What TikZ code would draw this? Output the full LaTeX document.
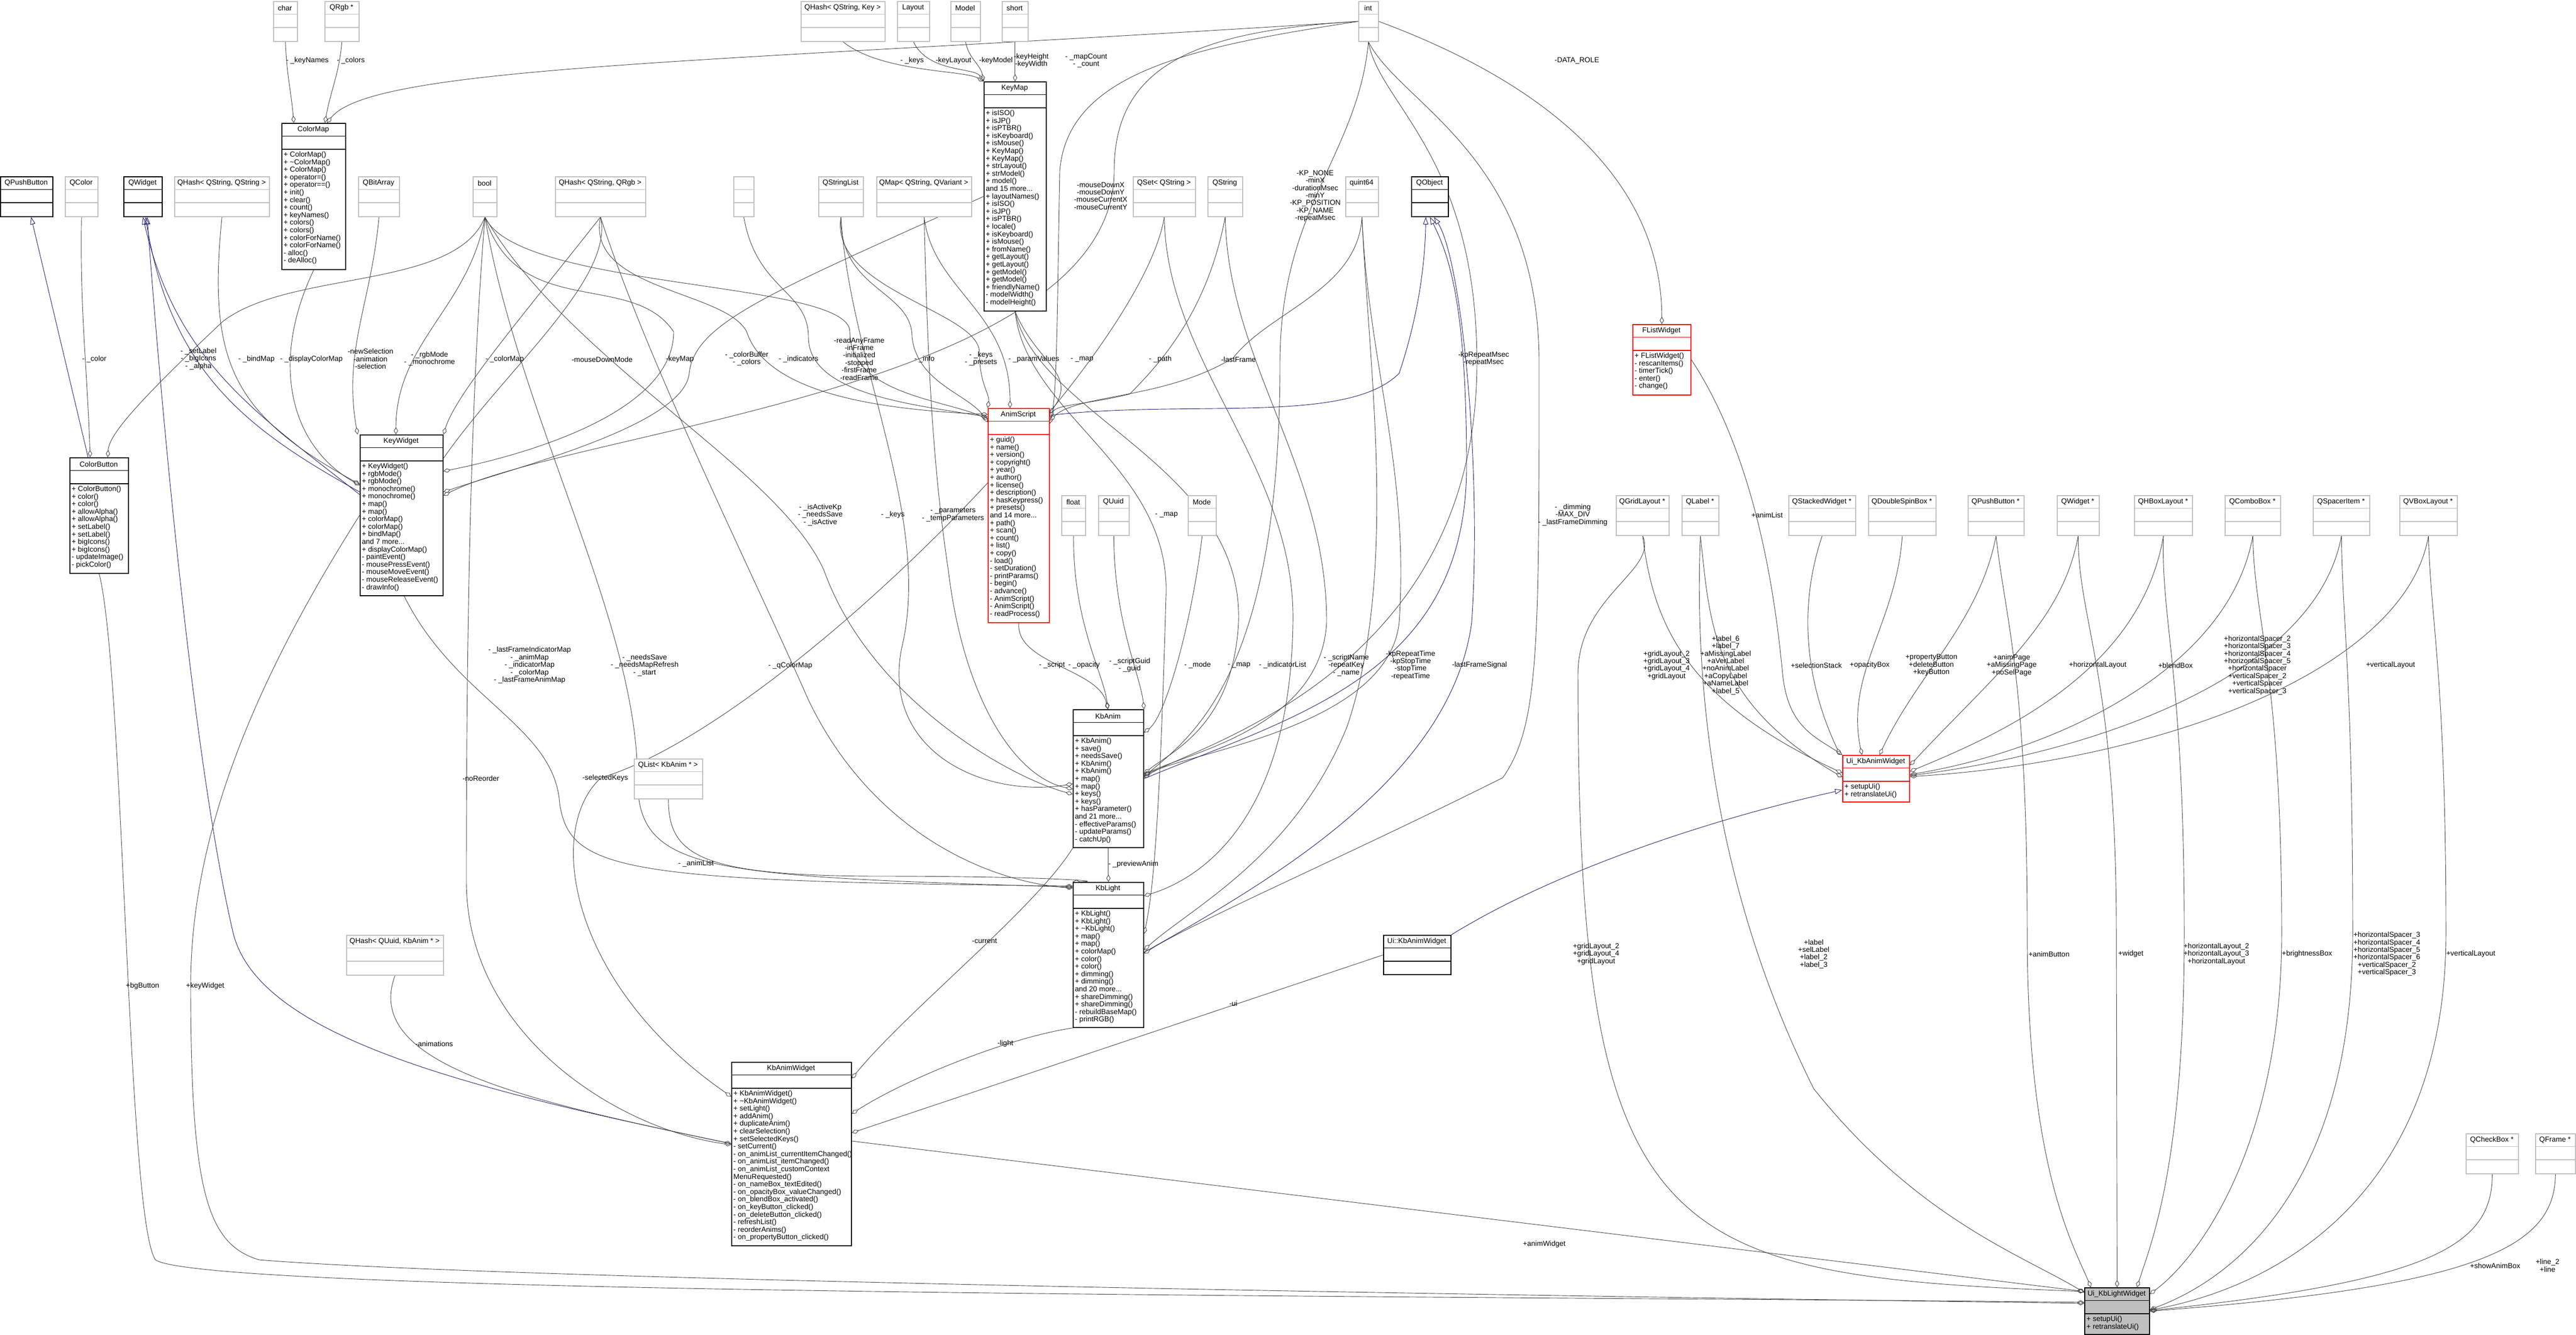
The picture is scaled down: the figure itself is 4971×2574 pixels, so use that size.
\documentclass[tikz,border=0pt]{standalone}
\usepackage{fontspec}
\setmainfont{Liberation Sans}
\usetikzlibrary{arrows.meta,calc,backgrounds}
\definecolor{navy}{HTML}{191970}
\definecolor{edgec}{HTML}{404040}
\definecolor{gborder}{HTML}{BFBFBF}
\tikzset{
  txt/.style={font=\fontsize{7}{7.3}\selectfont, inner sep=0pt},
  lbl/.style={font=\fontsize{7}{7.2}\selectfont, inner sep=0pt, align=center},
  blackbox/.style={draw=black, line width=0.9pt, fill=white},
  graybox/.style={draw=gborder, line width=0.8pt, fill=white},
  redbox/.style={draw=red, line width=0.9pt, fill=white},
  hibox/.style={draw=black, line width=0.9pt, fill=gborder},
  agg/.style={draw=edgec, line width=0.45pt, -{Diamond[open,length=7pt,width=4pt]}},
  inh/.style={draw=navy, line width=0.45pt, -{Triangle[open,length=7pt,width=5pt]}},
}
\newcommand\ubox[8]{%
  \pgfmathsetmacro\bw{(#4-#2)*0.5}\pgfmathsetmacro\bh{(#5-#3)*0.5}%
  \node[#8, inner sep=0pt, minimum width=\bw pt, minimum height=\bh pt, anchor=north west] (#1) at (#2,#3) {};
  \draw[#8] (#2,#3+25.5) -- (#4,#3+25.5) (#2,#3+51) -- (#4,#3+51);
  \node[txt] (#1t) at ({(#2+#4)/2},#3+13) {#6};
  \node[txt, anchor=north west, align=left] (#1m) at (#2+4,#3+55) {#7};
}
\newcommand\tbox[5]{\ubox{#1}{#2}{#3}{#4}{#3+77}{#5}{}{graybox}}
\begin{document}
\begin{tikzpicture}[x=0.5pt,y=-0.5pt]
\useasboundingbox (0,0) rectangle (4971,2574);
% ---------- type boxes ----------
\tbox{tchar}{527}{2}{573}{char}
\tbox{tqrgb}{626}{2}{692}{QRgb *}
\tbox{thkey}{1545}{2}{1707}{QHash< QString, Key >}
\tbox{tlayout}{1731}{2}{1793}{Layout}
\tbox{tmodel}{1834}{2}{1891}{Model}
\tbox{tshort}{1933}{2}{1983}{short}
\tbox{tint}{2621}{2}{2659}{int}
\ubox{tqpb}{0}{340}{101}{417}{QPushButton}{}{blackbox}
\tbox{tqcolor}{125}{340}{188}{QColor}
\ubox{tqwidget}{238}{340}{312}{417}{QWidget}{}{blackbox}
\tbox{thss}{336}{340}{519}{QHash< QString, QString >}
\tbox{tbits}{691}{340}{770}{QBitArray}
\tbox{tbool}{912}{340}{958}{bool}
\tbox{thrgb}{1071}{340}{1245}{QHash< QString, QRgb >}
\tbox{tempty}{1415}{340}{1454}{}
\tbox{tqsl}{1579}{340}{1665}{QStringList}
\tbox{tqmap}{1691}{340}{1874}{QMap< QString, QVariant >}
\tbox{tqset}{2186}{340}{2306}{QSet< QString >}
\tbox{tqstr}{2330}{340}{2397}{QString}
\tbox{tquint}{2596}{340}{2659}{quint64}
\ubox{tqobj}{2723}{340}{2794}{417}{QObject}{}{blackbox}
\tbox{tfloat}{2048}{955}{2094}{float}
\tbox{tquuid}{2119}{955}{2178}{QUuid}
\tbox{tmode}{2292}{955}{2346}{Mode}
\tbox{tqlist}{1223}{1463}{1355}{QList< KbAnim * >}
\tbox{thuuid}{668}{1803}{855}{QHash< QUuid, KbAnim * >}
\tbox{tgrid}{3118}{955}{3220}{QGridLayout *}
\tbox{tlabel}{3245}{955}{3316}{QLabel *}
\tbox{tstack}{3451}{955}{3580}{QStackedWidget *}
\tbox{tdspin}{3605}{955}{3735}{QDoubleSpinBox *}
\tbox{tqpbp}{3797}{955}{3905}{QPushButton *}
\tbox{tqwp}{3969}{955}{4050}{QWidget *}
\tbox{thbox}{4118}{955}{4230}{QHBoxLayout *}
\tbox{tcombo}{4293}{955}{4400}{QComboBox *}
\tbox{tspacer}{4463}{955}{4572}{QSpacerItem *}
\tbox{tvbox}{4630}{955}{4741}{QVBoxLayout *}
\tbox{tcheck}{4758}{2186}{4859}{QCheckBox *}
\tbox{tframe}{4892}{2186}{4969}{QFrame *}
% ---------- classes ----------
\ubox{ColorMap}{543}{237}{666}{519}{ColorMap}{+ ColorMap()\\+ \textasciitilde ColorMap()\\+ ColorMap()\\+ operator=()\\+ operator==()\\+ init()\\+ clear()\\+ count()\\+ keyNames()\\+ colors()\\+ colors()\\+ colorForName()\\+ colorForName()\\- alloc()\\- deAlloc()}{blackbox}
\ubox{KeyMap}{1898}{157}{2018}{599}{KeyMap}{+ isISO()\\+ isJP()\\+ isPTBR()\\+ isKeyboard()\\+ isMouse()\\+ KeyMap()\\+ KeyMap()\\+ strLayout()\\+ strModel()\\+ model()\\and 15 more...\\+ layoutNames()\\+ isISO()\\+ isJP()\\+ isPTBR()\\+ locale()\\+ isKeyboard()\\+ isMouse()\\+ fromName()\\+ getLayout()\\+ getLayout()\\+ getModel()\\+ getModel()\\+ friendlyName()\\- modelWidth()\\- modelHeight()}{blackbox}
\ubox{ColorButton}{134}{882}{247}{1105}{ColorButton}{+ ColorButton()\\+ color()\\+ color()\\+ allowAlpha()\\+ allowAlpha()\\+ setLabel()\\+ setLabel()\\+ bigIcons()\\+ bigIcons()\\- updateImage()\\- pickColor()}{blackbox}
\ubox{KeyWidget}{694}{838}{854}{1148}{KeyWidget}{+ KeyWidget()\\+ rgbMode()\\+ rgbMode()\\+ monochrome()\\+ monochrome()\\+ map()\\+ map()\\+ colorMap()\\+ colorMap()\\+ bindMap()\\and 7 more...\\+ displayColorMap()\\- paintEvent()\\- mousePressEvent()\\- mouseMoveEvent()\\- mouseReleaseEvent()\\- drawInfo()}{blackbox}
\ubox{AnimScript}{1906}{787}{2024}{1200}{AnimScript}{+ guid()\\+ name()\\+ version()\\+ copyright()\\+ year()\\+ author()\\+ license()\\+ description()\\+ hasKeypress()\\+ presets()\\and 14 more...\\+ path()\\+ scan()\\+ count()\\+ list()\\+ copy()\\- load()\\- setDuration()\\- printParams()\\- begin()\\- advance()\\- AnimScript()\\- AnimScript()\\- readProcess()}{redbox}
\ubox{KbAnim}{2070}{1368}{2206}{1634}{KbAnim}{+ KbAnim()\\+ save()\\+ needsSave()\\+ KbAnim()\\+ KbAnim()\\+ map()\\+ map()\\+ keys()\\+ keys()\\+ hasParameter()\\and 21 more...\\- effectiveParams()\\- updateParams()\\- catchUp()}{blackbox}
\ubox{KbLight}{2070}{1701}{2206}{1981}{KbLight}{+ KbLight()\\+ KbLight()\\+ \textasciitilde KbLight()\\+ map()\\+ map()\\+ colorMap()\\+ color()\\+ color()\\+ dimming()\\+ dimming()\\and 20 more...\\+ shareDimming()\\+ shareDimming()\\- rebuildBaseMap()\\- printRGB()}{blackbox}
\ubox{UiNS}{2669}{1803}{2799}{1879}{Ui::KbAnimWidget}{}{blackbox}
\ubox{FListWidget}{3150}{625}{3262}{761}{FListWidget}{+ FListWidget()\\- rescanItems()\\- timerTick()\\- enter()\\- change()}{redbox}
\ubox{UiKAW}{3555}{1456}{3684}{1546}{Ui\_KbAnimWidget}{+ setupUi()\\+ retranslateUi()}{redbox}
\ubox{KbAnimWidget}{1411}{2048}{1642}{2402}{KbAnimWidget}{+ KbAnimWidget()\\+ \textasciitilde KbAnimWidget()\\+ setLight()\\+ addAnim()\\+ duplicateAnim()\\+ clearSelection()\\+ setSelectedKeys()\\- setCurrent()\\- on\_animList\_currentItemChanged()\\- on\_animList\_itemChanged()\\- on\_animList\_customContext\\MenuRequested()\\- on\_nameBox\_textEdited()\\- on\_opacityBox\_valueChanged()\\- on\_blendBox\_activated()\\- on\_keyButton\_clicked()\\- on\_deleteButton\_clicked()\\- refreshList()\\- reorderAnims()\\- on\_propertyButton\_clicked()}{blackbox}
\ubox{UiKLW}{4022}{2483}{4147}{2573}{Ui\_KbLightWidget}{+ setupUi()\\+ retranslateUi()}{hibox}
% ---------- labels ----------
\node[lbl] (l1) at (593,117) {- \_keyNames};
\node[lbl] (l2) at (677,117) {- \_colors};
\node[lbl] (l3) at (1760,117) {- \_keys};
\node[lbl] (l4) at (1840,117) {-keyLayout};
\node[lbl] (l5) at (1922,117) {-keyModel};
\node[lbl] (l6) at (1990,117) {-keyHeight\\-keyWidth};
\node[lbl] (l7) at (2096,117) {- \_mapCount\\- \_count};
\node[lbl] (l8) at (3043,117) {-DATA\_ROLE};
\node[lbl] (l9) at (2124,378) {-mouseDownX\\-mouseDownY\\-mouseCurrentX\\-mouseCurrentY};
\node[lbl] (l10) at (2538,378) {-KP\_NONE\\-minX\\-durationMsec\\-minY\\-KP\_POSITION\\-KP\_NAME\\-repeatMsec};
\node[lbl] (l11) at (182,693) {- \_color};
\node[lbl] (l12) at (383,692) {- \_setLabel\\- \_bigIcons\\- \_alpha};
\node[lbl] (l13) at (495,693) {- \_bindMap};
\node[lbl] (l14) at (601,693) {- \_displayColorMap};
\node[lbl] (l15) at (715,692) {-newSelection\\-animation\\-selection};
\node[lbl] (l16) at (829,692) {- \_rgbMode\\- \_monochrome};
\node[lbl] (l17) at (974,693) {- \_colorMap};
\node[lbl] (l18) at (1162,693) {-mouseDownMode};
\node[lbl] (l19) at (1312,693) {-keyMap};
\node[lbl] (l20) at (1441,692) {- \_colorBuffer\\- \_colors};
\node[lbl] (l21) at (1541,693) {- \_indicators};
\node[lbl] (l22) at (1658,692) {-readAnyFrame\\-inFrame\\-initialized\\-stopped\\-firstFrame\\-readFrame};
\node[lbl] (l23) at (1784,693) {- \_info};
\node[lbl] (l24) at (1893,692) {- \_keys\\- \_presets};
\node[lbl] (l25) at (1995,693) {- \_paramValues};
\node[lbl] (l26) at (2088,693) {- \_map};
\node[lbl] (l27) at (2239,693) {- \_path};
\node[lbl] (l28) at (2390,693) {-lastFrame};
\node[lbl] (l29) at (2863,692) {-kpRepeatMsec\\-repeatMsec};
\node[lbl] (l30) at (1583,993) {- \_isActiveKp\\- \_needsSave\\- \_isActive};
\node[lbl] (l31) at (1723,993) {- \_keys};
\node[lbl] (l32) at (1839,993) {- \_parameters\\- \_tempParameters};
\node[lbl] (l33) at (2251,993) {- \_map};
\node[lbl] (l34) at (3035,993) {- \_dimming\\-MAX\_DIV\\- \_lastFrameDimming};
\node[lbl] (l35) at (3410,993) {+animList};
\node[lbl] (l36) at (2030,1283) {- \_script};
\node[lbl] (l37) at (2092,1283) {- \_opacity};
\node[lbl] (l38) at (2180,1283) {- \_scriptGuid\\- \_guid};
\node[lbl] (l39) at (2311,1283) {- \_mode};
\node[lbl] (l40) at (2391,1283) {- \_map};
\node[lbl] (l41) at (2475,1283) {- \_indicatorList};
\node[lbl] (l42) at (2598,1283) {- \_scriptName\\-repeatKey\\- \_name};
\node[lbl] (l43) at (2722,1283) {-kpRepeatTime\\-kpStopTime\\-stopTime\\-repeatTime};
\node[lbl] (l44) at (2855,1283) {-lastFrameSignal};
\node[lbl] (l45) at (1022,1283) {- \_lastFrameIndicatorMap\\- \_animMap\\- \_indicatorMap\\- \_colorMap\\- \_lastFrameAnimMap};
\node[lbl] (l46) at (1244,1283) {- \_needsSave\\- \_needsMapRefresh\\- \_start};
\node[lbl] (l47) at (1525,1284) {- \_qColorMap};
\node[lbl] (l48) at (3216,1283) {+gridLayout\_2\\+gridLayout\_3\\+gridLayout\_4\\+gridLayout};
\node[lbl] (l49) at (3330,1283) {+label\_6\\+label\_7\\+aMissingLabel\\+aVerLabel\\+noAnimLabel\\+aCopyLabel\\+aNameLabel\\+label\_5};
\node[lbl] (l50) at (3505,1283) {+selectionStack};
\node[lbl] (l51) at (3608,1283) {+opacityBox};
\node[lbl] (l52) at (3727,1283) {+propertyButton\\+deleteButton\\+keyButton};
\node[lbl] (l53) at (3882,1283) {+animPage\\+aMissingPage\\+noSelPage};
\node[lbl] (l54) at (4048,1283) {+horizontalLayout};
\node[lbl] (l55) at (4198,1283) {+blendBox};
\node[lbl] (l56) at (4356,1283) {+horizontalSpacer\_2\\+horizontalSpacer\_3\\+horizontalSpacer\_4\\+horizontalSpacer\_5\\+horizontalSpacer\\+verticalSpacer\_2\\+verticalSpacer\\+verticalSpacer\_3};
\node[lbl] (l57) at (4613,1283) {+verticalLayout};
\node[lbl] (l58) at (928,1501) {-noReorder};
\node[lbl] (l59) at (1168,1501) {-selectedKeys};
\node[lbl] (l60) at (1343,1666) {- \_animList};
\node[lbl] (l61) at (2187,1667) {- \_previewAnim};
\node[lbl] (l62) at (1900,1815) {-current};
\node[lbl] (l63) at (838,2013) {-animations};
\node[lbl] (l64) at (1940,2013) {-light};
\node[lbl] (l65) at (2380,1935) {-ui};
\node[lbl] (l66) at (275,1902) {+bgButton};
\node[lbl] (l67) at (396,1902) {+keyWidget};
\node[lbl] (l68) at (3080,1840) {+gridLayout\_2\\+gridLayout\_4\\+gridLayout};
\node[lbl] (l69) at (3500,1840) {+label\\+selLabel\\+label\_2\\+label\_3};
\node[lbl] (l70) at (3954,1840) {+animButton};
\node[lbl] (l71) at (4112,1840) {+widget};
\node[lbl] (l72) at (4277,1840) {+horizontalLayout\_2\\+horizontalLayout\_3\\+horizontalLayout};
\node[lbl] (l73) at (4452,1840) {+brightnessBox};
\node[lbl] (l74) at (4606,1840) {+horizontalSpacer\_3\\+horizontalSpacer\_4\\+horizontalSpacer\_5\\+horizontalSpacer\_6\\+verticalSpacer\_2\\+verticalSpacer\_3};
\node[lbl] (l75) at (4768,1840) {+verticalLayout};
\node[lbl] (l76) at (2980,2400) {+animWidget};
\node[lbl] (l77) at (4815,2441) {+showAnimBox};
\node[lbl] (l78) at (4916,2441) {+line\_2\\+line};
% ---------- edges ----------
\begin{pgfonlayer}{background}
% ColorMap
\draw[agg] (tchar.south) to[out=-88,in=95] ($(ColorMap.north west)+(24,0)$);
\draw[agg] (tqrgb.south) to[out=-95,in=80] ($(ColorMap.north west)+(84,0)$);
\draw[agg] (tint.west) .. controls (1400,120) and (720,125) .. ($(ColorMap.north west)+(88,0)$);
% KeyMap
\draw[agg] (thkey.south) .. controls (1700,140) and (1860,135) .. (KeyMap.north west);
\draw[agg] (tlayout.south) .. controls (1790,140) and (1880,130) .. (KeyMap.north west);
\draw[agg] (tmodel.south) to[out=-80,in=100] (KeyMap.north west);
\draw[agg] (tshort.south) -- (tshort.south |- KeyMap.north);
% ColorButton
\draw[inh] ($(ColorButton.north west)+(36,0)$) -- ($(tqpb.south west)+(60,0)$);
\draw[agg] (tqcolor.south) to[out=-91,in=92] ($(ColorButton.north west)+(40,0)$);
\draw[agg] (tbool.south) .. controls (880,560) and (560,520) .. (430,620) .. controls (260,780) and (210,840) .. ($(ColorButton.north west)+(74,0)$);
% KeyWidget
\draw[inh] ($(KeyWidget.west)+(0,-40)$) .. controls (500,800) and (340,700) .. (tqwidget.south);
\draw[inh] ($(KeyWidget.west)+(0,-45)$) .. controls (480,830) and (330,720) .. ($(tqwidget.south)+(5,0)$);
\draw[agg] (thss.south) .. controls (400,700) and (450,800) .. ($(KeyWidget.west)+(0,-60)$);
\draw[agg] (ColorMap.south) .. controls (520,700) and (560,860) .. ($(KeyWidget.west)+(0,-58)$);
\draw[agg] (tbits.south) to[out=-95,in=100] ($(KeyWidget.north west)+(-4,0)$);
\draw[agg] (tbool.south) to[out=-100,in=90] ($(KeyWidget.north west)+(70,0)$);
\draw[agg] (thrgb.south) .. controls (1000,620) and (880,760) .. (KeyWidget.north east);
\draw[agg] (tbool.south) .. controls (1000,620) and (1220,520) .. (1300,640) .. controls (1300,800) and (1000,880) .. ($(KeyWidget.east)+(0,-85)$);
\draw[agg] (KeyMap.west) .. controls (1500,560) and (1340,620) .. (1330,720) .. controls (1320,820) and (1000,900) .. ($(KeyWidget.east)+(0,-45)$);
\draw[agg] (tint.west) .. controls (2300,60) and (2150,130) .. (2150,330) .. controls (2150,750) and (1100,830) .. ($(KeyWidget.east)+(0,-38)$);
% AnimScript
\draw[agg] (thrgb.south) .. controls (1130,560) and (1400,560) .. (1441,640) .. controls (1480,760) and (1700,790) .. ($(AnimScript.west)+(0,-195)$);
\draw[agg] (tempty.south) .. controls (1460,560) and (1560,560) .. (1560,650) .. controls (1560,760) and (1760,780) .. ($(AnimScript.west)+(0,-190)$);
\draw[agg] (tbool.south) .. controls (1000,560) and (1640,540) .. (1640,640) .. controls (1640,760) and (1820,770) .. ($(AnimScript.west)+(0,-186)$);
\draw[agg] (tqsl.south) .. controls (1620,560) and (1760,560) .. (1760,650) .. controls (1770,740) and (1870,760) .. ($(AnimScript.west)+(0,-180)$);
\draw[agg] (tqsl.south) .. controls (1600,560) and (1890,600) .. (1890,680) .. controls (1890,740) and (1910,760) .. ($(AnimScript.north west)+(0,0)$);
\draw[agg] (tqmap.south) .. controls (1800,560) and (1950,600) .. ($(AnimScript.north west)+(43,0)$);
\draw[agg] (KeyMap.south) .. controls (2000,700) and (2080,720) .. ($(AnimScript.north east)+(0,10)$);
\draw[agg] (tqstr.south) .. controls (2330,600) and (2240,700) .. (2180,760) .. controls (2100,780) and (2040,780) .. ($(AnimScript.north east)+(0,18)$);
\draw[agg] (tquint.south) .. controls (2620,560) and (2450,600) .. (2380,690) .. controls (2250,770) and (2080,760) .. ($(AnimScript.north east)+(0,24)$);
\draw[inh] ($(AnimScript.north east)+(0,14)$) .. controls (2300,770) and (2600,820) .. (2700,720) .. controls (2740,600) and (2750,500) .. ($(tqobj.south)+(-8,0)$);
\draw[agg] (tint.west) .. controls (2300,90) and (2060,140) .. (2045,330) .. controls (2040,600) and (2040,760) .. ($(AnimScript.north east)+(0,30)$);
% KbAnim
\draw[agg] (AnimScript.south) .. controls (1960,1280) and (2120,1290) .. ($(KbAnim.north west)+(68,0)$);
\draw[agg] (tfloat.south) .. controls (2070,1200) and (2130,1300) .. ($(KbAnim.north west)+(68,0)$);
\draw[agg] (tquuid.south) .. controls (2150,1200) and (2200,1300) .. (KbAnim.north east);
\draw[agg] (tmode.south) .. controls (2300,1200) and (2250,1380) .. ($(KbAnim.north east)+(0,45)$);
\draw[agg] (KeyMap.south) .. controls (2000,800) and (2400,900) .. (2390,1200) .. controls (2380,1400) and (2260,1450) .. ($(KbAnim.east)+(0,-10)$);
\draw[agg] (tqsl.south) .. controls (1640,700) and (1800,1000) .. (1740,1250) .. controls (1700,1450) and (1900,1540) .. ($(KbAnim.west)+(0,10)$);
\draw[agg] (tqmap.south) .. controls (1790,700) and (1800,900) .. (1830,1100) .. controls (1860,1350) and (1960,1500) .. ($(KbAnim.west)+(0,20)$);
\draw[agg] (tbool.south) .. controls (1100,700) and (1500,900) .. (1590,1100) .. controls (1680,1350) and (1950,1500) .. ($(KbAnim.west)+(0,30)$);
\draw[agg] (tqstr.south) .. controls (2370,700) and (2560,900) .. (2560,1200) .. controls (2550,1400) and (2300,1450) .. ($(KbAnim.east)+(0,-8)$);
\draw[agg] (tquint.south) .. controls (2640,700) and (2720,900) .. (2700,1200) .. controls (2680,1400) and (2300,1450) .. ($(KbAnim.east)+(0,-6)$);
\draw[agg] (tint.south) .. controls (2620,300) and (2470,400) .. (2470,700) .. controls (2470,1300) and (2300,1420) .. ($(KbAnim.east)+(0,-4)$);
\draw[agg] (tint.south) .. controls (2660,200) and (2850,300) .. (2850,700) .. controls (2850,1300) and (2300,1440) .. ($(KbAnim.east)+(0,-2)$);
\draw[inh] ($(KbAnim.east)+(0,0)$) .. controls (2500,1380) and (2830,1300) .. (2830,900) .. controls (2830,600) and (2800,500) .. (tqobj.south);
% KbLight
\draw[agg] (KbAnim.south) -- (KbLight.north);
\draw[agg] (tqlist.south) .. controls (1290,1650) and (1350,1690) .. (1700,1690) .. controls (2000,1690) and (2150,1700) .. ($(KbLight.north west)+(0,0)$);
\draw[agg] (thrgb.south) .. controls (1200,600) and (700,900) .. (780,1150) .. controls (880,1350) and (1070,1400) .. (1080,1550) .. controls (1100,1680) and (1200,1700) .. ($(KbLight.north west)+(0,8)$);
\draw[agg] (tbool.south) .. controls (1000,800) and (1230,1200) .. (1230,1500) .. controls (1230,1680) and (1350,1690) .. ($(KbLight.north west)+(0,10)$);
\draw[agg] (thrgb.south) .. controls (1250,700) and (1450,1100) .. (1560,1350) .. controls (1680,1600) and (1900,1700) .. ($(KbLight.north west)+(0,12)$);
\draw[agg] (KeyMap.south) .. controls (1980,800) and (2260,900) .. (2250,1150) .. controls (2240,1500) and (2230,1700) .. ($(KbLight.north east)+(0,100)$);
\draw[agg] (tqset.south) .. controls (2250,700) and (2500,900) .. (2495,1200) .. controls (2490,1600) and (2300,1700) .. ($(KbLight.north east)+(0,27)$);
\draw[agg] (tquint.south) .. controls (2640,700) and (2700,1100) .. (2600,1400) .. controls (2500,1650) and (2300,1750) .. ($(KbLight.east)+(0,-10)$);
\draw[inh] ($(KbLight.east)+(0,-5)$) .. controls (2450,1700) and (2800,1500) .. (2840,1200) .. controls (2860,900) and (2820,500) .. ($(tqobj.south)+(8,0)$);
\draw[agg] (tint.south) .. controls (2700,200) and (2970,300) .. (2970,700) .. controls (2970,1250) and (2970,1400) .. (2900,1500) .. controls (2600,1650) and (2300,1780) .. ($(KbLight.east)+(0,-3)$);
\draw[agg] (tint.east) .. controls (2900,130) and (3206,300) .. (FListWidget.north);
% KbAnimWidget
\draw[inh] ($(KbAnimWidget.west)+(0,-20)$) .. controls (900,2100) and (500,2000) .. (450,1800) .. controls (380,1500) and (320,900) .. ($(tqwidget.south)+(8,0)$);
\draw[agg] (thuuid.south) .. controls (700,2050) and (1000,2120) .. ($(KbAnimWidget.west)+(0,-20)$);
\draw[agg] (tbool.south) .. controls (905,800) and (900,1300) .. (900,1700) .. controls (900,2000) and (1200,2180) .. ($(KbAnimWidget.west)+(0,-18)$);
\draw[agg] (tqset.south) .. controls (2200,700) and (1500,1400) .. (1160,1500) .. controls (1050,1600) and (1100,1900) .. ($(KbAnimWidget.north west)+(0,67)$);
\draw[agg] (KbAnim.south west) .. controls (2000,1750) and (1750,1950) .. ($(KbAnimWidget.north east)+(0,32)$);
\draw[agg] (KbLight.south west) .. controls (1950,2000) and (1750,2080) .. ($(KbAnimWidget.north east)+(0,100)$);
\draw[agg] (UiNS.west) -- ($(KbAnimWidget.north east)+(0,137)$);
% Ui_KbAnimWidget
\draw[inh] (UiNS.north east) .. controls (3000,1680) and (3300,1580) .. ($(UiKAW.south west)+(0,-24)$);
\draw[agg] (FListWidget.east) .. controls (3400,900) and (3430,1200) .. (3440,1300) .. controls (3450,1400) and (3500,1420) .. (UiKAW.north west);
\draw[agg] (tgrid.south) .. controls (3190,1200) and (3250,1350) .. ($(UiKAW.west)+(0,-11)$);
\draw[agg] (tlabel.south) .. controls (3300,1200) and (3300,1350) .. ($(UiKAW.west)+(0,-3)$);
\draw[agg] (tstack.south) .. controls (3460,1200) and (3500,1350) .. ($(UiKAW.north west)+(-4,0)$);
\draw[agg] (tdspin.south) .. controls (3660,1200) and (3560,1300) .. ($(UiKAW.north west)+(38,0)$);
\draw[agg] (tqpbp.south) .. controls (3820,1200) and (3700,1300) .. ($(UiKAW.north west)+(72,0)$);
\draw[agg] (tqwp.south) .. controls (3980,1200) and (3850,1300) .. ($(UiKAW.north east)+(0,20)$);
\draw[agg] (thbox.south) .. controls (4130,1300) and (3850,1420) .. ($(UiKAW.east)+(0,-14)$);
\draw[agg] (tcombo.south) .. controls (4300,1300) and (3950,1450) .. ($(UiKAW.east)+(0,-8)$);
\draw[agg] (tspacer.south) .. controls (4470,1300) and (4050,1450) .. ($(UiKAW.east)+(0,-6)$);
\draw[agg] (tvbox.south) .. controls (4640,1300) and (4150,1470) .. ($(UiKAW.east)+(0,-4)$);
% Ui_KbLightWidget
\draw[agg] (ColorButton.south) .. controls (240,1300) and (245,2350) .. (300,2430) .. controls (400,2500) and (3000,2500) .. ($(UiKLW.west)+(0,-17)$);
\draw[agg] (KeyWidget.west) .. controls (500,1300) and (368,1600) .. (368,1900) .. controls (368,2300) and (400,2400) .. (500,2430) .. controls (1000,2470) and (3000,2500) .. ($(UiKLW.west)+(0,-15)$);
\draw[agg] ($(KbAnimWidget.east)+(0,-25)$) -- ($(UiKLW.north west)+(0,8)$);
\draw[agg] (tgrid.south) .. controls (3200,1100) and (3045,1150) .. (3045,1300) .. controls (3045,2400) and (3200,2460) .. ($(UiKLW.north west)+(0,8)$);
\draw[agg] (tlabel.south) .. controls (3270,1300) and (3300,1700) .. (3500,2100) .. controls (3700,2350) and (3900,2420) .. ($(UiKLW.north west)+(0,10)$);
\draw[agg] (tqpbp.south) .. controls (3870,1200) and (3912,1300) .. (3912,1800) .. controls (3912,2250) and (4000,2400) .. ($(UiKLW.north west)+(13,0)$);
\draw[agg] (tqwp.south) .. controls (4010,1200) and (4084,1300) .. (4084,1800) -- (UiKLW.north);
\draw[agg] (thbox.south) .. controls (4170,1200) and (4215,1300) .. (4215,1800) .. controls (4215,2250) and (4150,2400) .. ($(UiKLW.north east)+(-25,0)$);
\draw[agg] (tcombo.south) .. controls (4350,1200) and (4403,1300) .. (4403,1800) .. controls (4403,2200) and (4250,2420) .. ($(UiKLW.north east)+(0,13)$);
\draw[agg] (tspacer.south) .. controls (4520,1200) and (4540,1300) .. (4540,1800) .. controls (4540,2300) and (4300,2470) .. ($(UiKLW.east)+(0,-3)$);
\draw[agg] (tvbox.south) .. controls (4690,1200) and (4720,1300) .. (4720,1800) .. controls (4720,2300) and (4400,2480) .. ($(UiKLW.east)+(0,-2)$);
\draw[agg] (tcheck.south) .. controls (4810,2400) and (4700,2470) .. ($(UiKLW.east)+(0,-1)$);
\draw[agg] (tframe.south) .. controls (4930,2400) and (4800,2480) .. ($(UiKLW.east)+(0,0)$);
\end{pgfonlayer}
\end{tikzpicture}
\end{document}
